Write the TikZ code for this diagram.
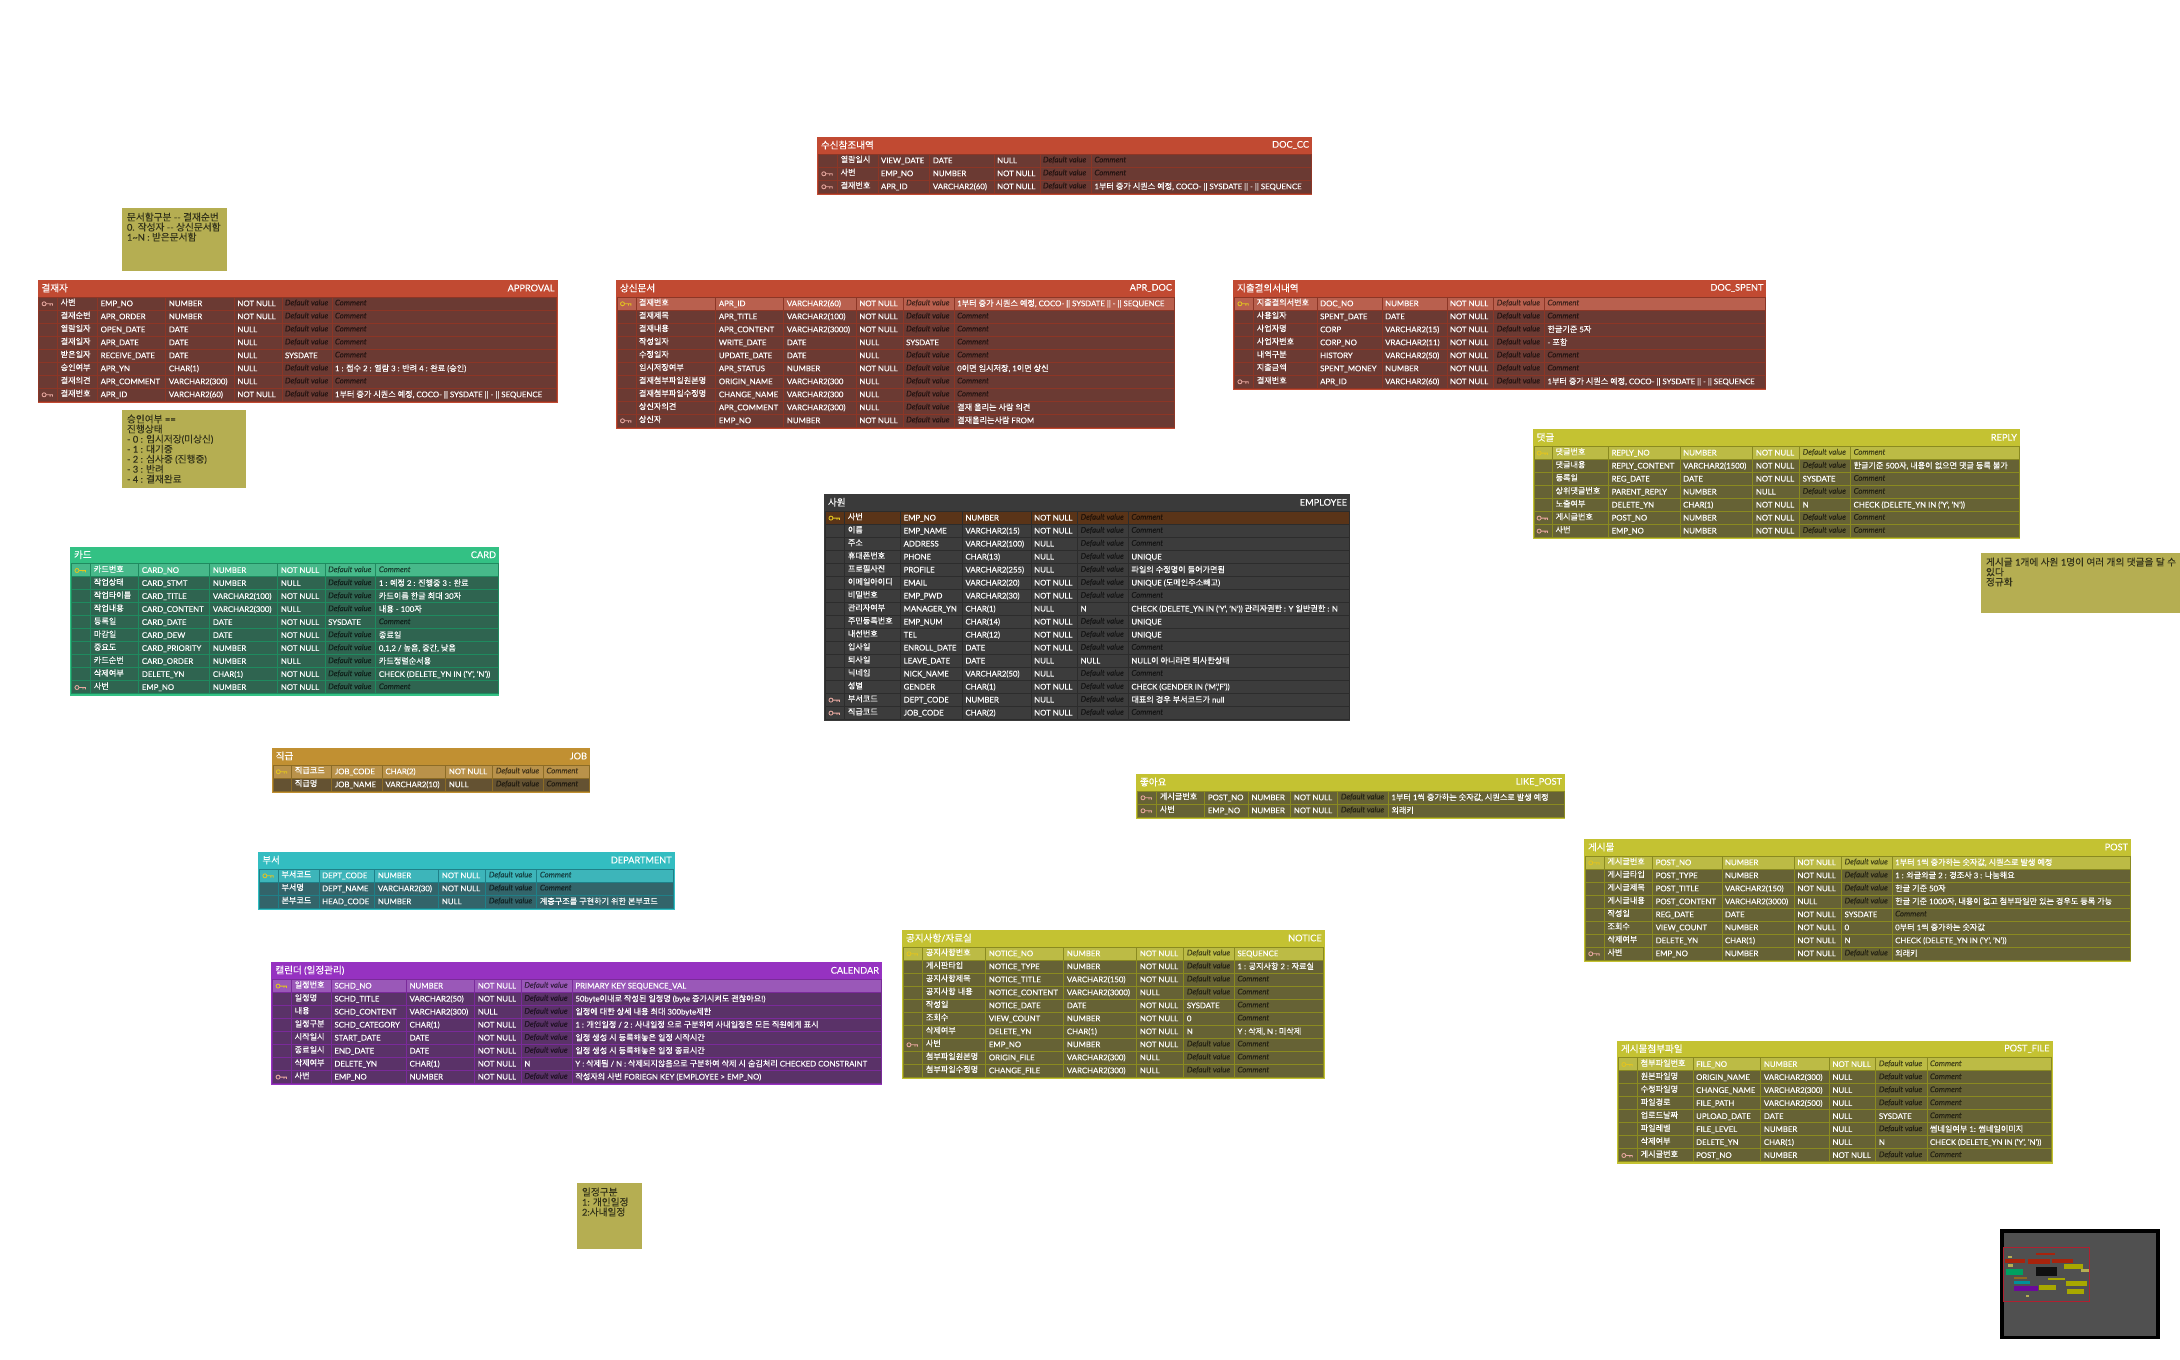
\documentclass[tikz,border=0pt]{standalone}
\usepackage{fontspec}
\setmainfont[FakeBold=0.12]{Lato}
\newfontfamily\ltf[FakeBold=0.12]{Lato}
\newfontfamily\krf[Scale=1.04,FakeBold=0.12]{Noto Sans CJK KR}
\newXeTeXintercharclass\hangulclass
\newcount\hc \hc="AC00
\loop\ifnum\hc<"D7A4 \XeTeXcharclass\hc=\hangulclass \advance\hc 1 \repeat
\XeTeXinterchartoks 0 \hangulclass={\krf}
\XeTeXinterchartoks \hangulclass 0={\ltf}
\XeTeXinterchartoks 4095 \hangulclass={\krf}
\XeTeXinterchartoks \hangulclass 4095={\ltf}
\XeTeXinterchartokenstate=1
\catcode`\_=12
% themes: H header, R row, G grid, P primary-key row, M minimap
\definecolor{redH}{HTML}{C14A32}\definecolor{redR}{HTML}{6B3A33}\definecolor{redG}{HTML}{8C3626}\definecolor{redP}{HTML}{B9604E}\definecolor{redM}{HTML}{A8230C}
\definecolor{blkH}{HTML}{3A3A3A}\definecolor{blkR}{HTML}{3C3C3C}\definecolor{blkG}{HTML}{2C2C2C}\definecolor{blkP}{HTML}{5A3418}\definecolor{blkM}{HTML}{101010}
\definecolor{grnH}{HTML}{33C184}\definecolor{grnR}{HTML}{2F6450}\definecolor{grnG}{HTML}{1F8A5F}\definecolor{grnP}{HTML}{47B98A}\definecolor{grnM}{HTML}{00A060}
\definecolor{ornH}{HTML}{C19032}\definecolor{ornR}{HTML}{645232}\definecolor{ornG}{HTML}{8C6C26}\definecolor{ornP}{HTML}{B9924A}\definecolor{ornM}{HTML}{8F6A20}
\definecolor{tealH}{HTML}{33BDC1}\definecolor{tealR}{HTML}{33646A}\definecolor{tealG}{HTML}{1F8088}\definecolor{tealP}{HTML}{3DB5BA}\definecolor{tealM}{HTML}{00909A}
\definecolor{purH}{HTML}{9632C1}\definecolor{purR}{HTML}{5A3268}\definecolor{purG}{HTML}{7A2A9A}\definecolor{purP}{HTML}{9A58B8}\definecolor{purM}{HTML}{6A0A9A}
\definecolor{yelH}{HTML}{C4C232}\definecolor{yelR}{HTML}{666235}\definecolor{yelG}{HTML}{8A8A20}\definecolor{yelP}{HTML}{BCBB45}\definecolor{yelM}{HTML}{A8A800}
\definecolor{noteF}{HTML}{B5AE52}\definecolor{noteT}{HTML}{33331A}
\definecolor{mapBg}{HTML}{505050}\definecolor{mapRed}{HTML}{B02030}
\definecolor{pkKey}{HTML}{E2C420}\definecolor{fkKey}{HTML}{E8A8A0}
\tikzset{
  x=1pt,y=-1pt,
  tblbox/.style={anchor=north west,inner sep=0,outer sep=0,draw=none},
  celltxt/.style={anchor=base west,inner sep=0,outer sep=0,text=white,font=\fontsize{7.8}{9}\selectfont},
  ttltxt/.style={inner sep=0,outer sep=0,text=white,font=\fontsize{9.2}{10}\selectfont},
  notebox/.style={anchor=north west,inner sep=0,outer sep=0,fill=noteF},
  notetxt/.style={anchor=north west,inner sep=0,outer sep=0,align=left,text=noteT,font=\fontsize{9.3}{10}\selectfont},
  gridln/.style={draw=tG,line width=.6pt},
  keyln/.style={line width=.85pt},
}
\newcounter{nn}
\newcount\rown
\newcommand\ertxt[3]{\stepcounter{nn}\node[celltxt] (t\thenn) at (#1,#2) {#3};}
\newcommand\ertcols[6]{\def\ca{#1}\def\cb{#2}\def\cc{#3}\def\cd{#4}\def\ce{#5}\def\cf{#6}}
% id, theme, x0, x1, ytop, nrows, korean title, english title
\newcommand\ertbl[8]{%
  \colorlet{tH}{#2H}\colorlet{tR}{#2R}\colorlet{tG}{#2G}\colorlet{tP}{#2P}\colorlet{tM}{#2M}%
  \def\tA{#3}\def\tB{#4}\def\tY{#5}\global\rown=0
  \pgfmathsetmacro\tW{#4-#3}\pgfmathsetmacro\tHt{19+13*#6}%
  \node[tblbox,fill=tH,minimum width=\tW pt,minimum height=\tHt pt] (#1) at (#3,#5) {};
  \pgfmathsetmacro\ma{2003.3+0.03945*#3}\pgfmathsetmacro\mb{2003.3+0.03945*#4}%
  \pgfmathsetmacro\mc{1247.3+0.04*#5}\pgfmathsetmacro\md{1247.3+0.04*(#5+\tHt)}%
  \fill[tM] (\ma,\mc) rectangle (\mb,\md);
  \pgfmathsetmacro\tl{#3+4}\pgfmathsetmacro\ttl{#5+8}\pgfmathsetmacro\tr{#4-3}%
  \stepcounter{nn}\node[ttltxt,anchor=west] (k\thenn) at (\tl,\ttl) {#7};
  \stepcounter{nn}\node[ttltxt,anchor=east] (e\thenn) at (\tr,\ttl) {#8};
}
\newcommand\erkey[3]{%
  \pgfmathsetmacro\ka{#1-3.4}\pgfmathsetmacro\kb{#1-1.4}\pgfmathsetmacro\kc{#1+5}%
  \pgfmathsetmacro\kd{#1+2.6}\pgfmathsetmacro\ke{#2+1.8}%
  \draw[keyln,draw=#3] (\ka,#2) circle [radius=2pt] (\kb,#2) -- (\kc,#2) -- (\kc,\ke) (\kd,#2) -- (\kd,\ke);
}
% key(P/F/N), korean, column, type, null, default, comment
\newcommand\rw[7]{%
  \pgfmathsetmacro\ry{\tY+17+13*\the\rown}\pgfmathsetmacro\rb{\ry+13}%
  \pgfmathsetmacro\rl{\tA+1.2}\pgfmathsetmacro\rr{\tB-1.2}%
  \pgfmathsetmacro\rt{\ry+9.2}\pgfmathsetmacro\rc{\ry+6.8}%
  \pgfmathsetmacro\rk{(\tA+\ca)/2}%
  \if#1P\colorlet{cF}{tP}\else\colorlet{cF}{tR}\fi
  \draw[gridln,fill=cF] (\rl,\ry) rectangle (\rr,\rb);
  \draw[gridln] (\ca,\ry) -- (\ca,\rb) (\cb,\ry) -- (\cb,\rb) (\cc,\ry) -- (\cc,\rb) (\cd,\ry) -- (\cd,\rb) (\ce,\ry) -- (\ce,\rb) (\cf,\ry) -- (\cf,\rb);
  \if#1P\erkey{\rk}{\rc}{pkKey}\fi
  \if#1F\erkey{\rk}{\rc}{fkKey}\fi
  \colorlet{cD}{black!65!cF}%
  \pgfmathsetmacro\xa{\ca+3.2}\pgfmathsetmacro\xb{\cb+3.2}\pgfmathsetmacro\xc{\cc+3.2}%
  \pgfmathsetmacro\xd{\cd+3.2}\pgfmathsetmacro\xe{\ce+3.2}\pgfmathsetmacro\xf{\cf+3.2}%
  \pgfmathsetmacro\rtk{\rt-.8}%
  \ertxt{\xa}{\rtk}{#2}\ertxt{\xb}{\rt}{#3}\ertxt{\xc}{\rt}{#4}\ertxt{\xd}{\rt}{#5}%
  \def\tmpd{#6}\ifx\tmpd\empty\ertxt{\xe}{\rtk}{\textcolor{cD}{\itshape Default value}}\else\ertxt{\xe}{\rt}{#6}\fi
  \def\tmpc{#7}\ifx\tmpc\empty\ertxt{\xf}{\rtk}{\textcolor{cD}{\itshape Comment}}\else\ertxt{\xf}{\rt}{#7}\fi
  \global\advance\rown 1
}
% id, x0, x1, y0, y1, text
\newcommand\ernote[6]{%
  \pgfmathsetmacro\nW{#3-#2}\pgfmathsetmacro\nH{#5-#4}%
  \node[notebox,minimum width=\nW pt,minimum height=\nH pt] (#1) at (#2,#4) {};
  \pgfmathsetmacro\ma{2003.3+0.03945*#2}\pgfmathsetmacro\mb{2003.3+0.03945*#3}%
  \pgfmathsetmacro\mc{1247.3+0.04*#4}\pgfmathsetmacro\md{1247.3+0.04*#5}%
  \fill[noteF] (\ma,\mc) rectangle (\mb,\md);
  \pgfmathsetmacro\nx{#2+5}\pgfmathsetmacro\ny{#4+4.6}%
  \node[notetxt] (#1txt) at (\nx,\ny) {#6};
}
\newcommand\seqc{1부터 증가 시퀀스 예정, COCO- || SYSDATE || - || SEQUENCE}
\newcommand\chkc{CHECK (DELETE_YN IN ('Y', 'N'))}
\begin{document}
\begin{tikzpicture}
\fill[white] (0,0) rectangle (2180,1360);
\useasboundingbox (0,0) rectangle (2180,1360);
% minimap frame
\fill[black] (2000,1229) rectangle (2160,1339.3);
\fill[mapBg] (2004,1233.3) rectangle (2156,1335.7);

\ernote{noteA}{122}{227}{208}{271}{문서함구분 -- 결재순번\\0. 작성자 -- 상신문서함\\1\textasciitilde N : 받은문서함}
\ernote{noteB}{122}{246}{410}{488}{승인여부 ==\\진행상태\\- 0 : 임시저장(미상신)\\- 1 :  대기중\\- 2 : 심사중 (진행중)\\- 3 : 반려\\- 4 : 결재완료}
\ernote{noteC}{1981}{2180}{553}{613}{게시글 1개에 사원 1명이 여러 개의 댓글을 달 수\\있다\\정규화}
\ernote{noteD}{577}{642}{1183}{1249}{일정구분\\1: 개인일정\\2:사내일정}

\ertcols{837.4}{877.8}{929.7}{994}{1039.8}{1091.3}
\ertbl{doccc}{red}{817}{1312}{137}{3}{수신참조내역}{DOC_CC}
\rw{N}{열람일시}{VIEW_DATE}{DATE}{NULL}{}{}
\rw{F}{사번}{EMP_NO}{NUMBER}{NOT NULL}{}{}
\rw{F}{결재번호}{APR_ID}{VARCHAR2(60)}{NOT NULL}{}{\seqc}

\ertcols{57.5}{97.5}{165.7}{234.3}{281.8}{331.8}
\ertbl{approval}{red}{37.5}{557.5}{280}{8}{결재자}{APPROVAL}
\rw{F}{사번}{EMP_NO}{NUMBER}{NOT NULL}{}{}
\rw{N}{결재순번}{APR_ORDER}{NUMBER}{NOT NULL}{}{}
\rw{N}{열람일자}{OPEN_DATE}{DATE}{NULL}{}{}
\rw{N}{결재일자}{APR_DATE}{DATE}{NULL}{}{}
\rw{N}{받은일자}{RECEIVE_DATE}{DATE}{NULL}{SYSDATE}{}
\rw{N}{승인여부}{APR_YN}{CHAR(1)}{NULL}{}{1 : 접수 2 : 열람 3 : 반려  4 : 완료 (승인)}
\rw{N}{결재의견}{APR_COMMENT}{VARCHAR2(300)}{NULL}{}{}
\rw{F}{결재번호}{APR_ID}{VARCHAR2(60)}{NOT NULL}{}{\seqc}

\ertcols{635.8}{715.7}{783.7}{856.2}{903}{954}
\ertbl{aprdoc}{red}{616}{1175}{280}{10}{상신문서}{APR_DOC}
\rw{P}{결재번호}{APR_ID}{VARCHAR2(60)}{NOT NULL}{}{\seqc}
\rw{N}{결재제목}{APR_TITLE}{VARCHAR2(100)}{NOT NULL}{}{}
\rw{N}{결재내용}{APR_CONTENT}{VARCHAR2(3000)}{NOT NULL}{}{}
\rw{N}{작성일자}{WRITE_DATE}{DATE}{NULL}{SYSDATE}{}
\rw{N}{수정일자}{UPDATE_DATE}{DATE}{NULL}{}{}
\rw{N}{임시저장여부}{APR_STATUS}{NUMBER}{NOT NULL}{}{0이면 임시저장, 1이면 상신}
\rw{N}{결재첨부파일원본명}{ORIGIN_NAME}{VARCHAR2(300}{NULL}{}{}
\rw{N}{결재첨부파일수정명}{CHANGE_NAME}{VARCHAR2(300}{NULL}{}{}
\rw{N}{상신자의견}{APR_COMMENT}{VARCHAR2(300)}{NULL}{}{결재 올리는 사람 의견}
\rw{F}{상신자}{EMP_NO}{NUMBER}{NOT NULL}{}{결재올리는사람 FROM}

\ertcols{1253.6}{1317}{1382}{1446.8}{1493.6}{1544.3}
\ertbl{docspent}{red}{1233}{1766.4}{280}{7}{지출결의서내역}{DOC_SPENT}
\rw{P}{지출결의서번호}{DOC_NO}{NUMBER}{NOT NULL}{}{}
\rw{N}{사용일자}{SPENT_DATE}{DATE}{NOT NULL}{}{}
\rw{N}{사업자명}{CORP}{VARCHAR2(15)}{NOT NULL}{}{한글기준 5자}
\rw{N}{사업자번호}{CORP_NO}{VRACHAR2(11)}{NOT NULL}{}{- 포함}
\rw{N}{내역구분}{HISTORY}{VARCHAR2(50)}{NOT NULL}{}{}
\rw{N}{지출금액}{SPENT_MONEY}{NUMBER}{NOT NULL}{}{}
\rw{F}{결재번호}{APR_ID}{VARCHAR2(60)}{NOT NULL}{}{\seqc}

\ertcols{1552.4}{1608.4}{1680}{1752.7}{1799.5}{1850.4}
\ertbl{reply}{yel}{1532.6}{2020}{429.3}{7}{댓글}{REPLY}
\rw{P}{댓글번호}{REPLY_NO}{NUMBER}{NOT NULL}{}{}
\rw{N}{댓글내용}{REPLY_CONTENT}{VARCHAR2(1500)}{NOT NULL}{}{한글기준 500자, 내용이 없으면 댓글 등록 불가}
\rw{N}{등록일}{REG_DATE}{DATE}{NOT NULL}{SYSDATE}{}
\rw{N}{상위댓글번호}{PARENT_REPLY}{NUMBER}{NULL}{}{}
\rw{N}{노출여부}{DELETE_YN}{CHAR(1)}{NOT NULL}{N}{\chkc}
\rw{F}{게시글번호}{POST_NO}{NUMBER}{NOT NULL}{}{}
\rw{F}{사번}{EMP_NO}{NUMBER}{NOT NULL}{}{}

\ertcols{844.7}{900.5}{962.3}{1031}{1077.4}{1128.2}
\ertbl{employee}{blk}{824}{1350}{494.3}{16}{사원}{EMPLOYEE}
\rw{P}{사번}{EMP_NO}{NUMBER}{NOT NULL}{}{}
\rw{N}{이름}{EMP_NAME}{VARCHAR2(15)}{NOT NULL}{}{}
\rw{N}{주소}{ADDRESS}{VARCHAR2(100)}{NULL}{}{}
\rw{N}{휴대폰번호}{PHONE}{CHAR(13)}{NULL}{}{UNIQUE}
\rw{N}{프로필사진}{PROFILE}{VARCHAR2(255)}{NULL}{}{파일의 수정명이 들어가면됨}
\rw{N}{이메일아이디}{EMAIL}{VARCHAR2(20)}{NOT NULL}{}{UNIQUE (도메인주소빼고)}
\rw{N}{비밀번호}{EMP_PWD}{VARCHAR2(30)}{NOT NULL}{}{}
\rw{N}{관리자여부}{MANAGER_YN}{CHAR(1)}{NULL}{N}{\chkc{}  관리자권한 : Y 일반권한 : N}
\rw{N}{주민등록번호}{EMP_NUM}{CHAR(14)}{NOT NULL}{}{UNIQUE}
\rw{N}{내선번호}{TEL}{CHAR(12)}{NOT NULL}{}{UNIQUE}
\rw{N}{입사일}{ENROLL_DATE}{DATE}{NOT NULL}{}{}
\rw{N}{퇴사일}{LEAVE_DATE}{DATE}{NULL}{NULL}{NULL이 아니라면 퇴사한상태}
\rw{N}{닉네임}{NICK_NAME}{VARCHAR2(50)}{NULL}{}{}
\rw{N}{성별}{GENDER}{CHAR(1)}{NOT NULL}{}{CHECK (GENDER IN ('M','F'))}
\rw{F}{부서코드}{DEPT_CODE}{NUMBER}{NULL}{}{대표의 경우 부서코드가 null}
\rw{F}{직급코드}{JOB_CODE}{CHAR(2)}{NOT NULL}{}{}

\ertcols{90.7}{138.7}{209.7}{277.7}{325}{375.7}
\ertbl{card}{grn}{70}{499}{546.7}{10}{카드}{CARD}
\rw{P}{카드번호}{CARD_NO}{NUMBER}{NOT NULL}{}{}
\rw{N}{작업상태}{CARD_STMT}{NUMBER}{NULL}{}{1 : 예정 2 : 진행중 3 : 완료}
\rw{N}{작업타이틀}{CARD_TITLE}{VARCHAR2(100)}{NOT NULL}{}{카드이름 한글 최대 30자}
\rw{N}{작업내용}{CARD_CONTENT}{VARCHAR2(300)}{NULL}{}{내용 - 100자}
\rw{N}{등록일}{CARD_DATE}{DATE}{NOT NULL}{SYSDATE}{}
\rw{N}{마감일}{CARD_DEW}{DATE}{NOT NULL}{}{종료일}
\rw{N}{중요도}{CARD_PRIORITY}{NUMBER}{NOT NULL}{}{0,1,2 / 높음, 중간, 낮음}
\rw{N}{카드순번}{CARD_ORDER}{NUMBER}{NULL}{}{카드정렬순서용}
\rw{N}{삭제여부}{DELETE_YN}{CHAR(1)}{NOT NULL}{}{\chkc}
\rw{F}{사번}{EMP_NO}{NUMBER}{NOT NULL}{}{}

\ertcols{291.7}{331.7}{382.3}{445.7}{492.7}{543.3}
\ertbl{job}{orn}{271.7}{590}{748}{2}{직급}{JOB}
\rw{P}{직급코드}{JOB_CODE}{CHAR(2)}{NOT NULL}{}{}
\rw{N}{직급명}{JOB_NAME}{VARCHAR2(10)}{NULL}{}{}

\ertcols{278.3}{319}{374.7}{438.7}{485.7}{536.7}
\ertbl{department}{teal}{258.3}{674.7}{852}{3}{부서}{DEPARTMENT}
\rw{P}{부서코드}{DEPT_CODE}{NUMBER}{NOT NULL}{}{}
\rw{N}{부서명}{DEPT_NAME}{VARCHAR2(30)}{NOT NULL}{}{}
\rw{N}{본부코드}{HEAD_CODE}{NUMBER}{NULL}{}{계층구조를 구현하기 위한 본부코드}

\ertcols{291.5}{331.3}{406.4}{474.6}{521.2}{572.2}
\ertbl{calendar}{pur}{271.4}{882}{962.3}{8}{캘린더 (일정관리)}{CALENDAR}
\rw{P}{일정번호}{SCHD_NO}{NUMBER}{NOT NULL}{}{PRIMARY KEY SEQUENCE_VAL}
\rw{N}{일정명}{SCHD_TITLE}{VARCHAR2(50)}{NOT NULL}{}{50byte이내로 작성된 일정명 (byte 증가시켜도 괜찮아요!)}
\rw{N}{내용}{SCHD_CONTENT}{VARCHAR2(300)}{NULL}{}{일정에 대한 상세 내용 최대 300byte제한}
\rw{N}{일정구분}{SCHD_CATEGORY}{CHAR(1)}{NOT NULL}{}{1 : 개인일정 / 2 : 사내일정 으로 구분하여 사내일정은 모든 직원에게 표시}
\rw{N}{시작일시}{START_DATE}{DATE}{NOT NULL}{}{일정 생성 시 등록해놓은 일정 시작시간}
\rw{N}{종료일시}{END_DATE}{DATE}{NOT NULL}{}{일정 생성 시 등록해놓은 일정 종료시간}
\rw{N}{삭제여부}{DELETE_YN}{CHAR(1)}{NOT NULL}{N}{Y : 삭제됨 / N : 삭제되지않음으로 구분하여 삭제 시 숨김처리  CHECKED CONSTRAINT}
\rw{F}{사번}{EMP_NO}{NUMBER}{NOT NULL}{}{작성자의 사번  FORIEGN KEY (EMPLOYEE > EMP_NO)}

\ertcols{922.7}{985.7}{1063.7}{1136.7}{1183.7}{1234.3}
\ertbl{notice}{yel}{902}{1324.7}{930}{10}{공지사항/자료실}{NOTICE}
\rw{P}{공지사항번호}{NOTICE_NO}{NUMBER}{NOT NULL}{}{SEQUENCE}
\rw{N}{게시판타입}{NOTICE_TYPE}{NUMBER}{NOT NULL}{}{1 : 공지사항 2 : 자료실}
\rw{N}{공지사항제목}{NOTICE_TITLE}{VARCHAR2(150)}{NOT NULL}{}{}
\rw{N}{공지사항 내용}{NOTICE_CONTENT}{VARCHAR2(3000)}{NULL}{}{}
\rw{N}{작성일}{NOTICE_DATE}{DATE}{NOT NULL}{SYSDATE}{}
\rw{N}{조회수}{VIEW_COUNT}{NUMBER}{NOT NULL}{0}{}
\rw{N}{삭제여부}{DELETE_YN}{CHAR(1)}{NOT NULL}{N}{Y : 삭제, N : 미삭제}
\rw{F}{사번}{EMP_NO}{NUMBER}{NOT NULL}{}{}
\rw{N}{첨부파일원본명}{ORIGIN_FILE}{VARCHAR2(300)}{NULL}{}{}
\rw{N}{첨부파일수정명}{CHANGE_FILE}{VARCHAR2(300)}{NULL}{}{}

\ertcols{1156.7}{1204.7}{1248.3}{1290.7}{1337.7}{1388.3}
\ertbl{likepost}{yel}{1136}{1565}{774}{2}{좋아요}{LIKE_POST}
\rw{F}{게시글번호}{POST_NO}{NUMBER}{NOT NULL}{}{1부터 1씩 증가하는 숫자값, 시퀀스로 발생 예정}
\rw{F}{사번}{EMP_NO}{NUMBER}{NOT NULL}{}{외래키}

\ertcols{1604.3}{1652.5}{1721.8}{1794.3}{1841.4}{1892}
\ertbl{post}{yel}{1584}{2131}{839}{8}{게시물}{POST}
\rw{P}{게시글번호}{POST_NO}{NUMBER}{NOT NULL}{}{1부터 1씩 증가하는 숫자값, 시퀀스로 발생 예정}
\rw{N}{게시글타입}{POST_TYPE}{NUMBER}{NOT NULL}{}{1 : 와글와글 2 : 경조사 3 : 나눔해요}
\rw{N}{게시글제목}{POST_TITLE}{VARCHAR2(150)}{NOT NULL}{}{한글 기준 50자}
\rw{N}{게시글내용}{POST_CONTENT}{VARCHAR2(3000)}{NULL}{}{한글 기준 1000자, 내용이 없고 첨부파일만 있는 경우도 등록 가능}
\rw{N}{작성일}{REG_DATE}{DATE}{NOT NULL}{SYSDATE}{}
\rw{N}{조회수}{VIEW_COUNT}{NUMBER}{NOT NULL}{0}{0부터 1씩 증가하는 숫자값}
\rw{N}{삭제여부}{DELETE_YN}{CHAR(1)}{NOT NULL}{N}{\chkc}
\rw{F}{사번}{EMP_NO}{NUMBER}{NOT NULL}{}{외래키}

\ertcols{1637.5}{1692.9}{1760.7}{1829.3}{1875.7}{1926.8}
\ertbl{postfile}{yel}{1617}{2052.5}{1040.7}{8}{게시물첨부파일}{POST_FILE}
\rw{P}{첨부파일번호}{FILE_NO}{NUMBER}{NOT NULL}{}{}
\rw{N}{원본파일명}{ORIGIN_NAME}{VARCHAR2(300)}{NULL}{}{}
\rw{N}{수정파일명}{CHANGE_NAME}{VARCHAR2(300)}{NULL}{}{}
\rw{N}{파일경로}{FILE_PATH}{VARCHAR2(500)}{NULL}{}{}
\rw{N}{업로드날짜}{UPLOAD_DATE}{DATE}{NULL}{SYSDATE}{}
\rw{N}{파일레벨}{FILE_LEVEL}{NUMBER}{NULL}{}{썸네일여부 1: 썸네일이미지}
\rw{N}{삭제여부}{DELETE_YN}{CHAR(1)}{NULL}{N}{\chkc}
\rw{F}{게시글번호}{POST_NO}{NUMBER}{NOT NULL}{}{}

\draw[mapRed,line width=1pt] (2003.3,1247.3) rectangle (2089.3,1301.7);
\end{tikzpicture}
\end{document}
